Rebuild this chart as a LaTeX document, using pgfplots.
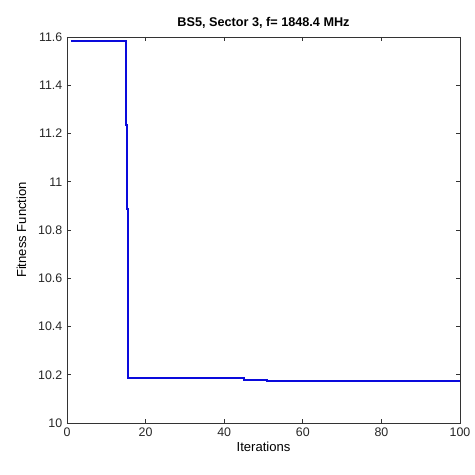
\documentclass[border=0pt]{standalone}
\usepackage{pgfplots}
\pgfplotsset{compat=1.18}
\usepackage{fontspec}
\setmainfont{Liberation Sans}
\begin{document}
\begin{tikzpicture}
\begin{axis}[
  name=ax,
  scale only axis,
  width=294.75pt, height=289.5pt,
  xmin=0, xmax=100, ymin=10, ymax=11.6,
  xtick={0,20,...,100},
  ytick={10,10.2,...,11.6},
  yticklabels={10,10.2,10.4,10.6,10.8,11,11.2,11.4,11.6},
  tick align=inside,
  major tick length=3pt,
  minor tick num=0,
  axis line style={black!80, line width=0.6pt},
  tick style={black!80, line width=0.5pt},
  ticklabel style={font=\fontsize{9.3}{10}\selectfont, text=black!85},
  /pgf/number format/assume math mode=true,
  title={\bfseries BS5, Sector 3, f= 1848.4 MHz},
  title style={font=\fontsize{9.5}{11}\selectfont, yshift=-3pt},
  xlabel={Iterations},
  ylabel={Fitness Function},
  label style={font=\fontsize{9.8}{11}\selectfont},
  xlabel style={yshift=3pt},
  ylabel style={yshift=2pt},
]
\addplot[color={rgb,255:red,10;green,10;blue,220}, line width=1.5pt] coordinates {
(1,11.585) (15,11.585) (15,11.235) (15.25,11.235) (15.25,10.885) (15.4,10.885)
(15.4,10.53) (15.6,10.53) (15.6,10.186) (45,10.186) (45,10.178) (51,10.178)
(51,10.175) (100,10.175)
};
\end{axis}
\path[use as bounding box] ([xshift=-50.25pt,yshift=-39pt]ax.south west) rectangle ([xshift=10.5pt,yshift=27.75pt]ax.north east);
\end{tikzpicture}
\end{document}
